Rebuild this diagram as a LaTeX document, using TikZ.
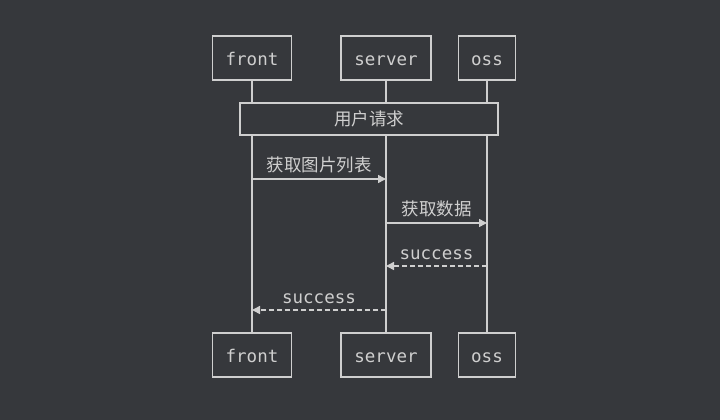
\documentclass[tikz,border=0pt]{standalone}
\usepackage{fontspec}
\setmonofont{DejaVu Sans Mono}
\newfontfamily\cjk{Noto Sans CJK SC}
\usetikzlibrary{arrows.meta}
\definecolor{bg}{HTML}{36383C}
\definecolor{fg}{HTML}{CFCFCF}
\tikzset{x=1pt,y=-1pt,
 actor/.style={draw=fg,line width=1.5pt,text=fg,font=\ttfamily\fontsize{17.5}{17.5}\selectfont,minimum height=44pt,inner sep=0pt,text height=15pt,text depth=0pt},
 life/.style={draw=fg,line width=1.5pt},
 msg/.style={draw=fg,line width=1.5pt,-{Triangle[length=8pt,width=8pt]}},
 ret/.style={msg,dash pattern=on 5pt off 3pt},
 lbl/.style={text=fg,font=\cjk\fontsize{17.5}{17.5}\selectfont},
 mlbl/.style={text=fg,font=\ttfamily\fontsize{17.5}{17.5}\selectfont}}
\begin{document}
\begin{tikzpicture}
\fill[bg] (0,0) rectangle (720,420);
\useasboundingbox (0,0) rectangle (720,420);
\node[actor,minimum width=79pt] (ft) at (252,58) {front};
\node[actor,minimum width=90pt] (st) at (386,58) {server};
\node[actor,minimum width=57pt] (ot) at (487,58) {oss};
\node[actor,minimum width=79pt] (fb) at (252,355) {front};
\node[actor,minimum width=90pt] (sb) at (386,355) {server};
\node[actor,minimum width=57pt] (ob) at (487,355) {oss};
\draw[life] (ft) -- (fb);
\draw[life] (st) -- (sb);
\draw[life] (ot) -- (ob);
\node[draw=fg,line width=1.5pt,fill=bg,minimum width=258pt,minimum height=32pt,inner sep=0pt,lbl] (note) at (369,119) {用户请求};
\coordinate (f1) at (252,179); \coordinate (s1) at (386,179);
\coordinate (s2) at (386,223); \coordinate (o2) at (487,223);
\coordinate (o3) at (487,266); \coordinate (s3) at (386,266);
\coordinate (s4) at (386,310); \coordinate (f4) at (252,310);
\draw[msg] (f1) -- node[lbl,above=2pt] (m1) {获取图片列表} (s1);
\draw[msg] (s2) -- node[lbl,above=2pt] (m2) {获取数据} (o2);
\draw[ret] (o3) -- node[mlbl,above=2pt] (m3) {success} (s3);
\draw[ret] (s4) -- node[mlbl,above=2pt] (m4) {success} (f4);
\end{tikzpicture}
\end{document}
